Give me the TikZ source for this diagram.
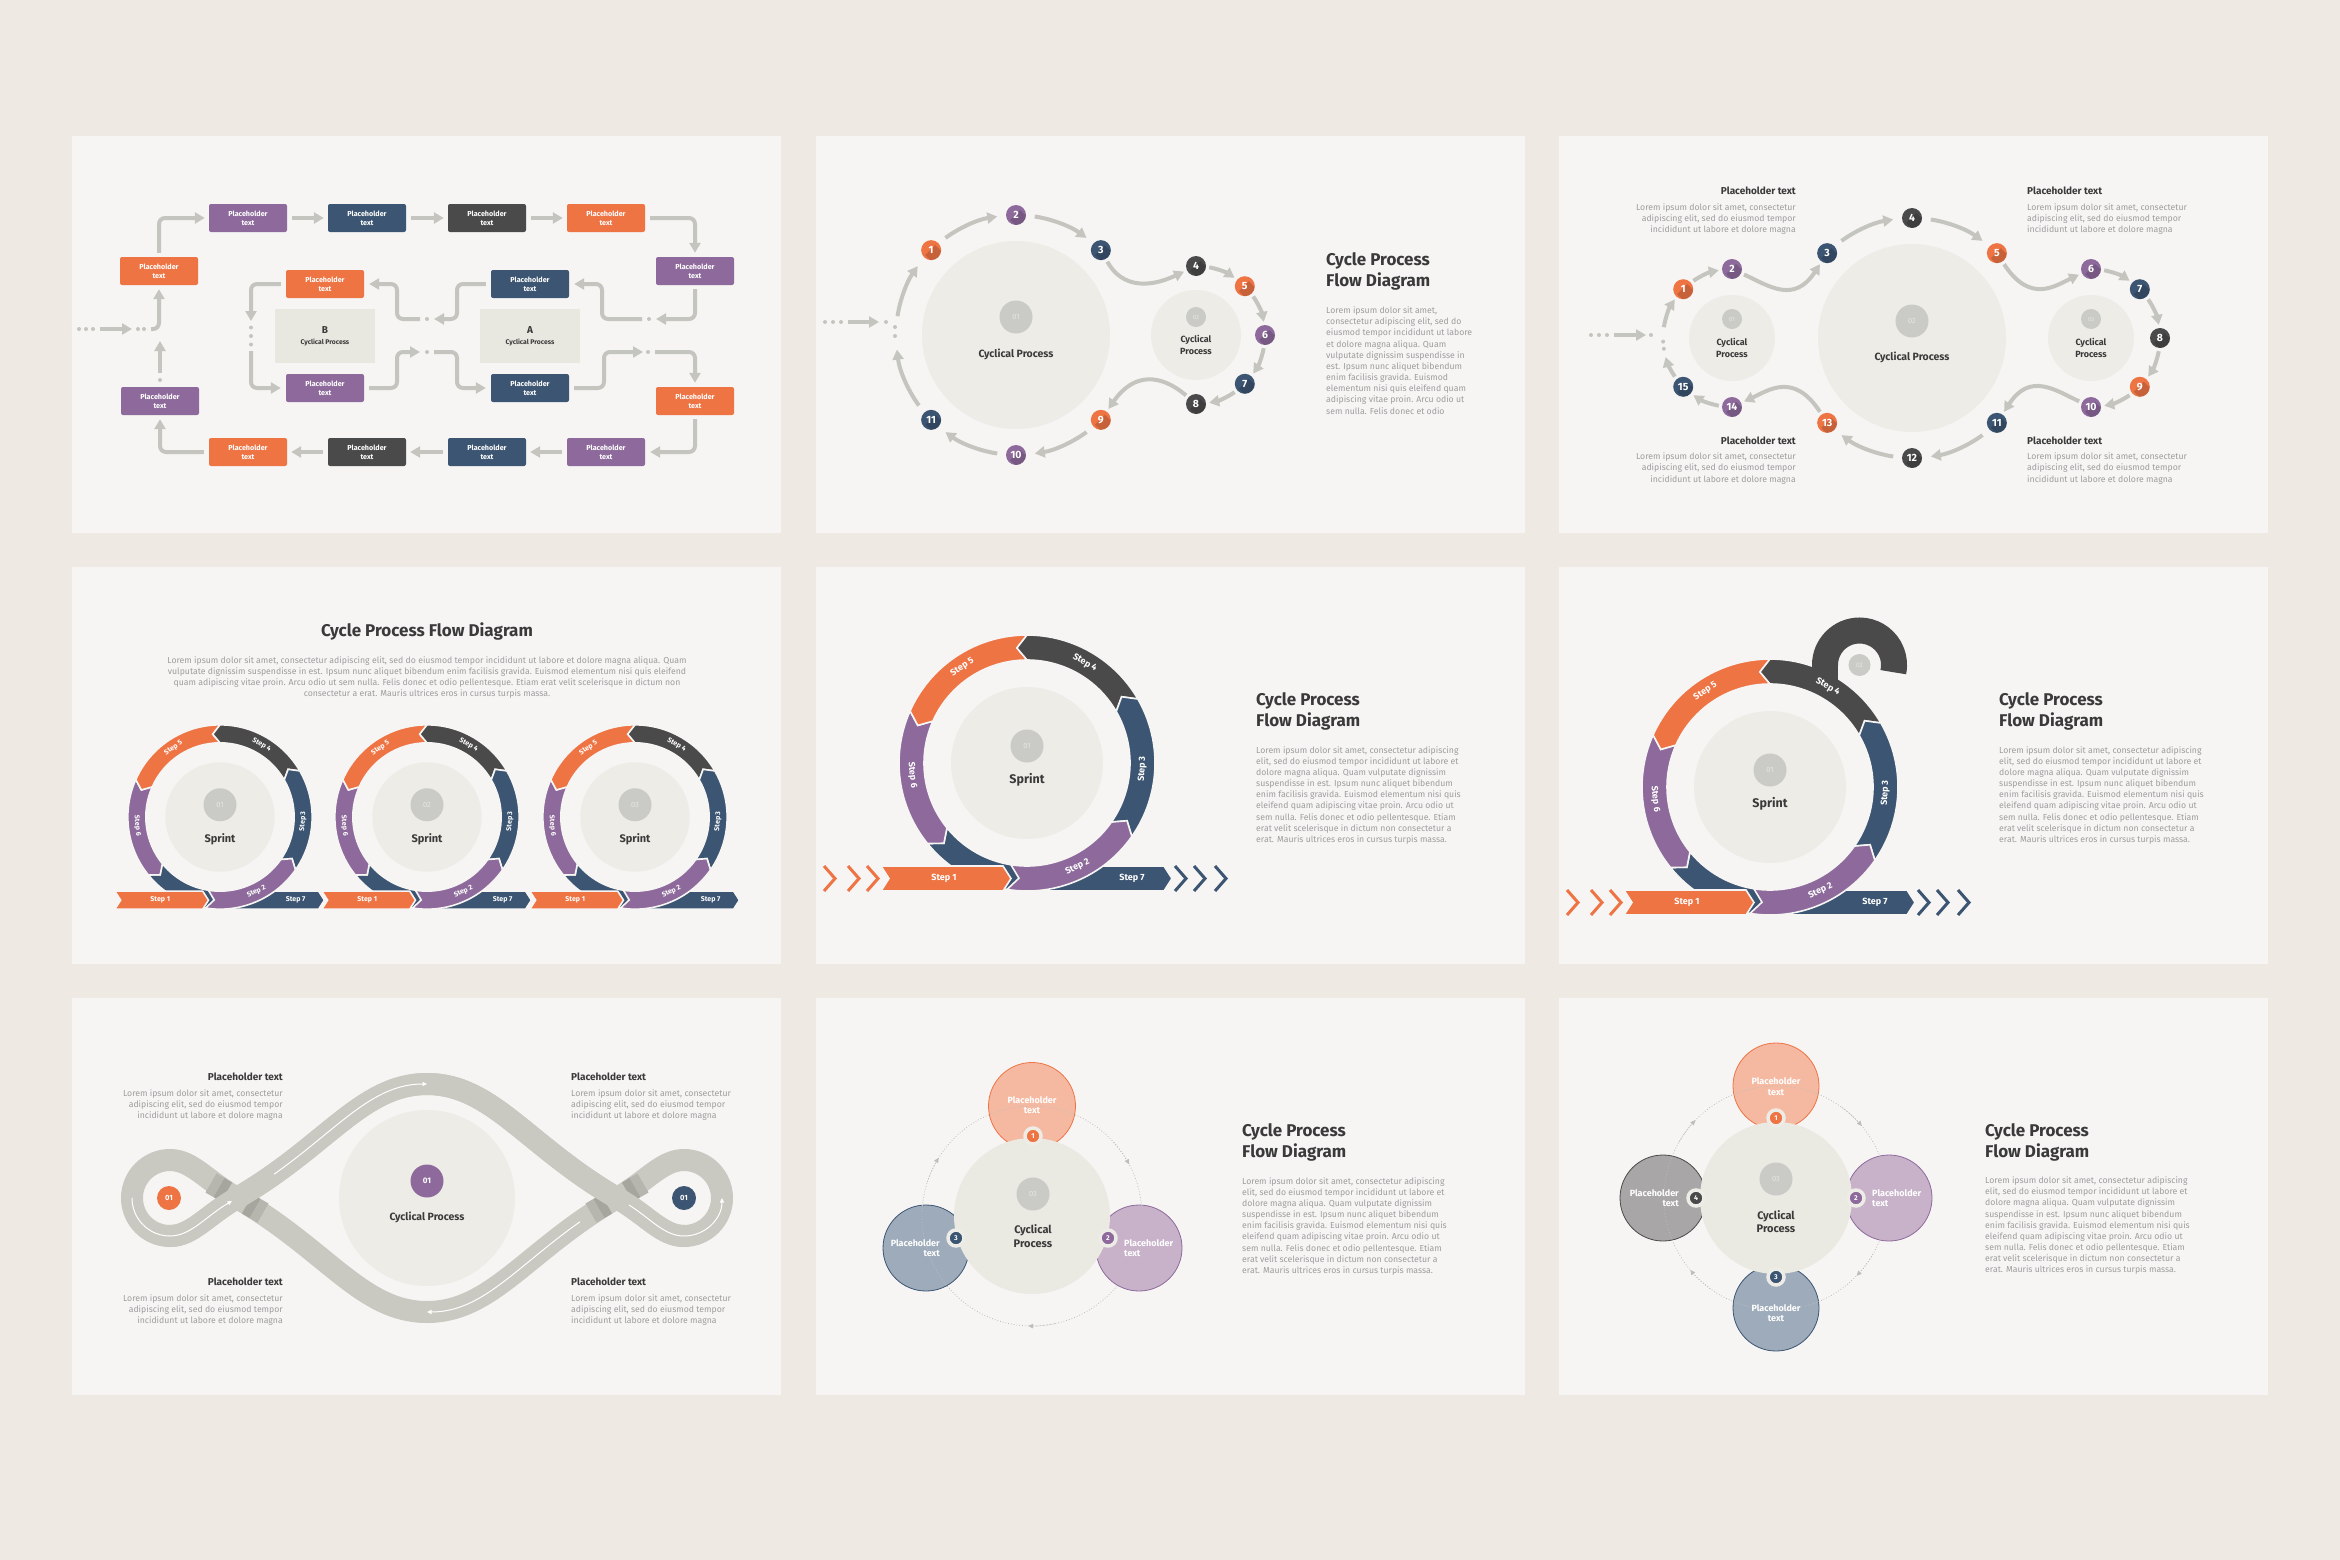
\documentclass[tikz,border=0pt]{standalone}
\usepackage{fontspec}
\setmainfont{Fira Sans}
\usetikzlibrary{arrows.meta,calc}
\definecolor{pagebg}{HTML}{EEEAE3}
\definecolor{slidebg}{HTML}{F6F5F4}
\definecolor{corange}{HTML}{EE7444}
\definecolor{cpurple}{HTML}{8D6A9B}
\definecolor{cnavy}{HTML}{3C5572}
\definecolor{cdark}{HTML}{4A4A4A}
\definecolor{arrowgray}{HTML}{C5C5BF}
\definecolor{softcircle}{HTML}{EDECE7}
\definecolor{badgegray}{HTML}{CACAC6}
\definecolor{badgetext}{HTML}{E6E6E2}
\definecolor{titlecol}{HTML}{3A3A3A}
\definecolor{bodycol}{HTML}{9D9D9D}
\definecolor{roadgray}{HTML}{C9C9C1}
\definecolor{roaddark}{HTML}{A6A69F}
\definecolor{roadmid}{HTML}{B6B6AF}
\definecolor{salmon}{HTML}{F5B9A2}
\definecolor{lilac}{HTML}{C8B2CA}
\definecolor{bluegray}{HTML}{9DABBA}
\definecolor{warmgray}{HTML}{A8A6A6}
\definecolor{graybox}{HTML}{E9E8E0}
\definecolor{centercol}{HTML}{EAE9E2}
\definecolor{dotcol}{HTML}{BDBDBA}
\tikzset{
  fbox/.style={rounded corners=2, minimum width=78, minimum height=28, inner sep=0, text=white, align=center, font=\fontsize{7.2}{9}\selectfont\bfseries},
  barr/.style={draw=arrowgray, line width=4, rounded corners=6, -{Triangle[length=10pt,width=11pt]}},
  flowarr/.style={draw=arrowgray, line width=4, -{Triangle[length=10pt,width=11pt]}},
  jdot/.style={fill=arrowgray},
  numb/.style={circle, minimum size=20, inner sep=0, text=white, font=\fontsize{10.5}{12}\selectfont\bfseries,
    path picture={\fill[black, opacity=0.16] ([shift={(4,-5)}]path picture bounding box.center) -- ++(20,20) -- ++(-10,10) -- ++(-20,-20) -- cycle;}},
  gbadge/.style={circle, fill=badgegray, inner sep=0, text=badgetext, font=\fontsize{7.5}{8}\selectfont},
  ttl/.style={anchor=west, inner sep=0, text=titlecol, font=\fontsize{17}{20}\selectfont\bfseries},
  ttlc/.style={ttl, anchor=center},
  bodyl/.style={anchor=west, inner sep=0, text=bodycol, font=\fontsize{8.7}{11}\selectfont},
  bodyr/.style={bodyl, anchor=east},
  bodyc/.style={bodyl, anchor=center},
  pheadl/.style={anchor=west, inner sep=0, text=titlecol, font=\fontsize{10}{12}\selectfont\bfseries},
  pheadr/.style={pheadl, anchor=east},
  cyc/.style={inner sep=0, text=titlecol, font=\fontsize{10.5}{12}\selectfont\bfseries},
  cycs/.style={inner sep=0, text=titlecol, font=\fontsize{9}{10}\selectfont\bfseries},
  steplbl/.style={inner sep=0, text=white},
  whitet/.style={inner sep=0, text=white, font=\fontsize{9}{10}\selectfont\bfseries},
  segline/.style={draw=slidebg, line width=1.6},
  smallbadge/.style={circle, minimum size=16, inner sep=0, text=white, font=\fontsize{7}{8}\selectfont\bfseries, draw=softcircle, line width=3.5},
  road/.style={draw=roadgray, line width=22},
  lane/.style={draw=white, line width=1, -{Triangle[length=4.5pt,width=4pt]}},
  dotc/.style={draw=dotcol, line width=0.8, dotted},
  dotarr/.style={draw=dotcol, line width=0.8, dotted, -{Triangle[length=5pt,width=4.5pt]}},
}
\newcommand\textlines[6]{\foreach \tline [count=\tidx from 0] in #6 {\node[#2] (#1-\tidx) at (#3,#4+\tidx*#5) {\tline};}}
\newcommand\arcarrow[4]{\draw[flowarr] ([shift={(#2:#4)}]#1) arc[start angle=#2, end angle=#3, radius=#4];}
\newcommand\loopdot[3]{\fill[jdot] ([shift={(#2:#3)}]#1) circle[radius=2];}
\newcommand\wheelseg[3]{\fill[#1, segline] (#2:128) arc[start angle=#2, end angle=#3, radius=128] -- (#3-5:115.5) -- (#3:103) arc[start angle=#3, end angle=#2, radius=103] -- (#2-5:115.5) -- cycle;}
\newcommand\sprintwheel[9]{%
\begin{scope}[shift={(#2,#3)}, scale=#4]
  \coordinate (#1c) at (0,0);
  \fill[cnavy, segline] (141:128) arc[start angle=141, end angle=90, radius=128] -- (137,128) -- (145,115.5) -- (137,103) -- (0,103) arc[start angle=90, end angle=141, radius=103] -- (136:115.5) -- cycle;
  \fill[corange, segline] (-146,103) -- (-24,103) -- (-16,115.5) -- (-24,128) -- (-146,128) -- (-138,115.5) -- cycle;
  \wheelseg{cpurple}{-156}{-219}
  \wheelseg{corange}{-90}{-156}
  \wheelseg{cdark}{-30}{-90}
  \wheelseg{cnavy}{35}{-30}
  \wheelseg{cpurple}{99}{35}
  #9
  \fill[softcircle] (0,0) circle[radius=76];
  \node[gbadge, minimum size=33] (#1b) at (0,-17) {#5};
  \node[inner sep=0, text=titlecol, font=\fontsize{#7}{#7}\selectfont\bfseries] (#1s) at (0,#8) {Sprint};
  \node[steplbl, font=\fontsize{#6}{#6}\selectfont\bfseries, rotate=34] (#1l5) at (236:115.5) {Step 5};
  \node[steplbl, font=\fontsize{#6}{#6}\selectfont\bfseries, rotate=-30] (#1l4) at (300:115.5) {Step 4};
  \node[steplbl, font=\fontsize{#6}{#6}\selectfont\bfseries, rotate=87] (#1l3) at (3:115.5) {Step 3};
  \node[steplbl, font=\fontsize{#6}{#6}\selectfont\bfseries, rotate=26] (#1l2) at (64:115.5) {Step 2};
  \node[steplbl, font=\fontsize{#6}{#6}\selectfont\bfseries, rotate=-84] (#1l6) at (174:115.5) {Step 6};
  \node[steplbl, font=\fontsize{#6}{#6}\selectfont\bfseries] (#1l1) at (-83,115.5) {Step 1};
  \node[steplbl, font=\fontsize{#6}{#6}\selectfont\bfseries] (#1l7) at (105,115.5) {Step 7};
\end{scope}}
\def\lstTitle{{Cycle Process},{Flow Diagram}}
\def\lstTwo{{Lorem ipsum dolor sit amet,},{consectetur adipiscing elit, sed do},{eiusmod tempor incididunt ut labore},{et dolore magna aliqua. Quam},{vulputate dignissim suspendisse in},{est. Ipsum nunc aliquet bibendum},{enim facilisis gravida. Euismod},{elementum nisi quis eleifend quam},{adipiscing vitae proin. Arcu odio ut},{sem nulla. Felis donec et odio}}
\def\lstThree{{Lorem ipsum dolor sit amet, consectetur},{adipiscing elit, sed do eiusmod tempor},{incididunt ut labore et dolore magna}}
\def\lstFour{{Lorem ipsum dolor sit amet, consectetur adipiscing elit, sed do eiusmod tempor incididunt ut labore et dolore magna aliqua. Quam},{vulputate dignissim suspendisse in est. Ipsum nunc aliquet bibendum enim facilisis gravida. Euismod elementum nisi quis eleifend},{quam adipiscing vitae proin. Arcu odio ut sem nulla. Felis donec et odio pellentesque. Etiam erat velit scelerisque in dictum non},{consectetur a erat. Mauris ultrices eros in cursus turpis massa.}}
\def\lstNine{{Lorem ipsum dolor sit amet, consectetur adipiscing},{elit, sed do eiusmod tempor incididunt ut labore et},{dolore magna aliqua. Quam vulputate dignissim},{suspendisse in est. Ipsum nunc aliquet bibendum},{enim facilisis gravida. Euismod elementum nisi quis},{eleifend quam adipiscing vitae proin. Arcu odio ut},{sem nulla. Felis donec et odio pellentesque. Etiam},{erat velit scelerisque in dictum non consectetur a},{erat. Mauris ultrices eros in cursus turpis massa.}}
\begin{document}
\begin{tikzpicture}[x=1pt,y=-1pt]
\useasboundingbox (0,0) rectangle (2340,1560);
\fill[pagebg] (0,0) rectangle (2340,1560);
% ================= SLIDE 1 =================
\begin{scope}[shift={(72,136)}]
\fill[slidebg] (0,0) rectangle (709,397);
\node[fill=graybox, minimum width=100, minimum height=54, inner sep=0] (s1gb) at (253,200) {};
\node[fill=graybox, minimum width=100, minimum height=54, inner sep=0] (s1ga) at (458,200) {};
\node[inner sep=0, text=titlecol, font=\fontsize{10}{11}\selectfont\bfseries] (s1gbl) at (253,194) {B};
\node[inner sep=0, text=titlecol, font=\fontsize{6.8}{8}\selectfont\bfseries] (s1gbt) at (253,206) {Cyclical Process};
\node[inner sep=0, text=titlecol, font=\fontsize{10}{11}\selectfont\bfseries] (s1gal) at (458,194) {A};
\node[inner sep=0, text=titlecol, font=\fontsize{6.8}{8}\selectfont\bfseries] (s1gat) at (458,206) {Cyclical Process};
\node[fbox, fill=cpurple] (s1t1) at (176,82) {Placeholder\\text};
\node[fbox, fill=cnavy] (s1t2) at (295,82) {Placeholder\\text};
\node[fbox, fill=cdark] (s1t3) at (415,82) {Placeholder\\text};
\node[fbox, fill=corange] (s1t4) at (534,82) {Placeholder\\text};
\node[fbox, fill=corange] (s1l1) at (87,135) {Placeholder\\text};
\node[fbox, fill=cpurple] (s1l2) at (88,265) {Placeholder\\text};
\node[fbox, fill=cpurple] (s1r1) at (623,135) {Placeholder\\text};
\node[fbox, fill=corange] (s1r2) at (623,265) {Placeholder\\text};
\node[fbox, fill=cpurple] (s1b1) at (534,316) {Placeholder\\text};
\node[fbox, fill=cnavy] (s1b2) at (415,316) {Placeholder\\text};
\node[fbox, fill=cdark] (s1b3) at (295,316) {Placeholder\\text};
\node[fbox, fill=corange] (s1b4) at (176,316) {Placeholder\\text};
\node[fbox, fill=corange] (s1i1) at (253,148) {Placeholder\\text};
\node[fbox, fill=cnavy] (s1i2) at (458,148) {Placeholder\\text};
\node[fbox, fill=cpurple] (s1i3) at (253,252) {Placeholder\\text};
\node[fbox, fill=cnavy] (s1i4) at (458,252) {Placeholder\\text};
\coordinate (s1j1) at (577,183); \coordinate (s1k1) at (530,183);
\coordinate (s1k2) at (385,183); \coordinate (s1j2) at (355,183); \coordinate (s1k3) at (325,183);
\coordinate (s1j3) at (179,200);
\coordinate (s1k4) at (325,216); \coordinate (s1j4) at (355,216); \coordinate (s1k5) at (385,216);
\coordinate (s1k6) at (532,216); \coordinate (s1j5) at (576,216);
\coordinate (s1j6) at (88,244); \coordinate (s1j7) at (88,193);
\coordinate (s1e0) at (28,193); \coordinate (s1e1) at (60,193); \coordinate (s1e2) at (79,193);
\draw[barr, shorten <=4pt, shorten >=4pt] (s1l1.north) |- (s1t1.west);
\draw[barr, shorten <=5pt, shorten >=4pt] (s1t1.east) -- (s1t2.west);
\draw[barr, shorten <=5pt, shorten >=4pt] (s1t2.east) -- (s1t3.west);
\draw[barr, shorten <=5pt, shorten >=4pt] (s1t3.east) -- (s1t4.west);
\draw[barr, shorten <=5pt, shorten >=4pt] (s1t4.east) -| (s1r1.north);
\draw[barr, shorten <=4pt, shorten >=7pt] (s1r1.south) |- (s1j1);
\draw[barr, shorten <=7pt, shorten >=5pt] (s1j1) -- (s1k1) |- (s1i2.east);
\draw[barr, shorten <=5pt, shorten >=7pt] (s1i2.west) -| (s1k2) -- (s1j2);
\draw[barr, shorten <=7pt, shorten >=5pt] (s1j2) -- (s1k3) |- (s1i1.east);
\draw[barr, shorten <=5pt, shorten >=15pt] (s1i1.west) -| (s1j3);
\draw[barr, shorten <=15pt, shorten >=5pt] (s1j3) |- (s1i3.west);
\draw[barr, shorten <=5pt, shorten >=7pt] (s1i3.east) -| (s1k4) -- (s1j4);
\draw[barr, shorten <=7pt, shorten >=5pt] (s1j4) -- (s1k5) |- (s1i4.west);
\draw[barr, shorten <=5pt, shorten >=5pt] (s1i4.east) -| (s1k6) -- (s1j5);
\draw[barr, shorten <=7pt, shorten >=4pt] (s1j5) -| (s1r2.north);
\draw[barr, shorten <=4pt, shorten >=5pt] (s1r2.south) |- (s1b1.east);
\draw[barr, shorten <=5pt, shorten >=4pt] (s1b1.west) -- (s1b2.east);
\draw[barr, shorten <=5pt, shorten >=4pt] (s1b2.west) -- (s1b3.east);
\draw[barr, shorten <=5pt, shorten >=4pt] (s1b3.west) -- (s1b4.east);
\draw[barr, shorten <=5pt, shorten >=4pt] (s1b4.west) -| (s1l2.south);
\draw[barr, shorten <=7pt, shorten >=12pt] (s1j6) -- (s1j7);
\draw[barr] (s1e0) -- (s1e1);
\draw[barr, shorten >=4pt] (s1e2) -| (s1l1.south);
\foreach \p in {s1j1,s1j2,s1j3,s1j4,s1j5,s1j6} {\fill[jdot] (\p) circle[radius=2];}
\fill[jdot] (179,191.5) circle[radius=2] (179,208.5) circle[radius=2];
\fill[jdot] (7,193) circle[radius=2] (14,193) circle[radius=2] (21,193) circle[radius=2] (66,193) circle[radius=2] (72,193) circle[radius=2];
\end{scope}
% ================= SLIDE 2 =================
\begin{scope}[shift={(816,136)}]
\fill[slidebg] (0,0) rectangle (709,397);
\coordinate (s2c1) at (200,199); \coordinate (s2c2) at (380,199);
\fill[softcircle] (s2c1) circle[radius=94];
\fill[softcircle] (s2c2) circle[radius=45];
\node[gbadge, minimum size=33] (s2g1) at (200,181) {01};
\node[cyc] (s2cp1) at (200,218) {Cyclical Process};
\node[gbadge, minimum size=20, font=\fontsize{6}{7}\selectfont] (s2g2) at (380,181) {02};
\node[cycs] (s2cp2a) at (380,204) {Cyclical};
\node[cycs] (s2cp2b) at (380,215) {Process};
\arcarrow{s2c1}{234}{261}{120}
\arcarrow{s2c1}{279}{306}{120}
\arcarrow{s2c1}{54}{81}{120}
\arcarrow{s2c1}{99}{126}{120}
\arcarrow{s2c1}{144}{173}{120}
\arcarrow{s2c1}{189}{215}{120}
\arcarrow{s2c2}{281}{304}{69}
\arcarrow{s2c2}{326}{349}{69}
\arcarrow{s2c2}{11}{34}{69}
\arcarrow{s2c2}{56}{79}{69}
\fill[jdot] (79,191) circle[radius=2] (79,200) circle[radius=2];
\fill[jdot] (9,186) circle[radius=2] (17,186) circle[radius=2] (25,186) circle[radius=2] (70,186) circle[radius=2];
\coordinate (s2e0) at (32,186); \coordinate (s2e1) at (63,186);
\draw[flowarr] (s2e0) -- (s2e1);
\node[numb, fill=corange] (s2n1) at ([shift={(225:120)}]s2c1) {1};
\node[numb, fill=cpurple] (s2n2) at ([shift={(270:120)}]s2c1) {2};
\node[numb, fill=cnavy] (s2n3) at ([shift={(315:120)}]s2c1) {3};
\node[numb, fill=cdark] (s2n4) at ([shift={(270:69)}]s2c2) {4};
\node[numb, fill=corange] (s2n5) at ([shift={(315:69)}]s2c2) {5};
\node[numb, fill=cpurple] (s2n6) at ([shift={(0:69)}]s2c2) {6};
\node[numb, fill=cnavy] (s2n7) at ([shift={(45:69)}]s2c2) {7};
\node[numb, fill=cdark] (s2n8) at ([shift={(90:69)}]s2c2) {8};
\node[numb, fill=corange] (s2n9) at ([shift={(45:120)}]s2c1) {9};
\node[numb, fill=cpurple] (s2n10) at ([shift={(90:120)}]s2c1) {10};
\node[numb, fill=cnavy] (s2n11) at ([shift={(135:120)}]s2c1) {11};
\draw[flowarr, shorten <=3pt, shorten >=3pt] (s2n3) .. controls (306,152) and (333,152) .. (s2n4);
\draw[flowarr, shorten <=3pt, shorten >=3pt] (s2n8) .. controls (345,238) and (318,236) .. (s2n9);
\textlines{s2t}{ttl}{510}{125}{20.5}{\lstTitle}
\textlines{s2b}{bodyl}{510}{175.3}{11.1}{\lstTwo}
\end{scope}
% ================= SLIDE 3 =================
\begin{scope}[shift={(1559,136)}]
\fill[slidebg] (0,0) rectangle (709,397);
\coordinate (s3cl) at (173,202); \coordinate (s3cb) at (353,202); \coordinate (s3cr) at (532,202);
\fill[softcircle] (s3cb) circle[radius=94];
\fill[softcircle] (s3cl) circle[radius=43];
\fill[softcircle] (s3cr) circle[radius=43];
\node[gbadge, minimum size=33] (s3g2) at (353,185) {02};
\node[cyc] (s3cp2) at (353,221) {Cyclical Process};
\node[gbadge, minimum size=20, font=\fontsize{6}{7}\selectfont] (s3g1) at (173,183) {01};
\node[cycs] (s3cp1a) at (173,207) {Cyclical};
\node[cycs] (s3cp1b) at (173,218) {Process};
\node[gbadge, minimum size=20, font=\fontsize{6}{7}\selectfont] (s3g3) at (532,183) {03};
\node[cycs] (s3cp3a) at (532,207) {Cyclical};
\node[cycs] (s3cp3b) at (532,218) {Process};
\arcarrow{s3cl}{236}{259}{69}
\arcarrow{s3cl}{101}{124}{69}
\arcarrow{s3cl}{146}{164}{69}
\arcarrow{s3cl}{189}{214}{69}
\loopdot{s3cl}{171}{69}
\loopdot{s3cl}{177}{69}
\arcarrow{s3cb}{234}{261}{120}
\arcarrow{s3cb}{279}{306}{120}
\arcarrow{s3cb}{54}{81}{120}
\arcarrow{s3cb}{99}{126}{120}
\arcarrow{s3cr}{281}{304}{69}
\arcarrow{s3cr}{326}{349}{69}
\arcarrow{s3cr}{11}{34}{69}
\arcarrow{s3cr}{56}{79}{69}
\fill[jdot] (32,199) circle[radius=2] (40,199) circle[radius=2] (48,199) circle[radius=2] (92,199) circle[radius=2];
\coordinate (s3e0) at (55,199); \coordinate (s3e1) at (87,199);
\draw[flowarr] (s3e0) -- (s3e1);
\node[numb, fill=corange] (s3n1) at ([shift={(225:69)}]s3cl) {1};
\node[numb, fill=cpurple] (s3n2) at ([shift={(270:69)}]s3cl) {2};
\node[numb, fill=cnavy] (s3n3) at ([shift={(225:120)}]s3cb) {3};
\node[numb, fill=cdark] (s3n4) at ([shift={(270:120)}]s3cb) {4};
\node[numb, fill=corange] (s3n5) at ([shift={(315:120)}]s3cb) {5};
\node[numb, fill=cpurple] (s3n6) at ([shift={(270:69)}]s3cr) {6};
\node[numb, fill=cnavy] (s3n7) at ([shift={(315:69)}]s3cr) {7};
\node[numb, fill=cdark] (s3n8) at ([shift={(0:69)}]s3cr) {8};
\node[numb, fill=corange] (s3n9) at ([shift={(45:69)}]s3cr) {9};
\node[numb, fill=cpurple] (s3n10) at ([shift={(90:69)}]s3cr) {10};
\node[numb, fill=cnavy] (s3n11) at ([shift={(45:120)}]s3cb) {11};
\node[numb, fill=cdark] (s3n12) at ([shift={(90:120)}]s3cb) {12};
\node[numb, fill=corange] (s3n13) at ([shift={(135:120)}]s3cb) {13};
\node[numb, fill=cpurple] (s3n14) at ([shift={(90:69)}]s3cl) {14};
\node[numb, fill=cnavy] (s3n15) at ([shift={(135:69)}]s3cl) {15};
\draw[flowarr, shorten <=3pt, shorten >=3pt] (s3n2) .. controls (210,150) and (235,168) .. (s3n3);
\draw[flowarr, shorten <=3pt, shorten >=3pt] (s3n5) .. controls (471,168) and (496,150) .. (s3n6);
\draw[flowarr, shorten <=3pt, shorten >=3pt] (s3n10) .. controls (496,254) and (471,236) .. (s3n11);
\draw[flowarr, shorten <=3pt, shorten >=3pt] (s3n13) .. controls (235,236) and (210,254) .. (s3n14);
\node[pheadr] (s3h1) at (237,55) {Placeholder text};
\textlines{s3b1}{bodyr}{237}{72}{11.2}{\lstThree}
\node[pheadl] (s3h2) at (468,55) {Placeholder text};
\textlines{s3b2}{bodyl}{468}{72}{11.2}{\lstThree}
\node[pheadr] (s3h3) at (237,305) {Placeholder text};
\textlines{s3b3}{bodyr}{237}{321.3}{11.2}{\lstThree}
\node[pheadl] (s3h4) at (468,305) {Placeholder text};
\textlines{s3b4}{bodyl}{468}{321.3}{11.2}{\lstThree}
\end{scope}
% ================= SLIDE 4 =================
\begin{scope}[shift={(72,567)}]
\fill[slidebg] (0,0) rectangle (709,397);
\node[ttlc] (s4title) at (355,64) {Cycle Process Flow Diagram};
\textlines{s4b}{bodyc}{355}{94}{11.1}{\lstFour}
\sprintwheel{s4wa}{148}{250}{0.72}{01}{7}{11}{30.5}{}
\sprintwheel{s4wb}{355}{250}{0.72}{02}{7}{11}{30.5}{}
\sprintwheel{s4wc}{563}{250}{0.72}{03}{7}{11}{30.5}{}
\end{scope}
% ================= SLIDE 5 =================
\begin{scope}[shift={(816,567)}]
\fill[slidebg] (0,0) rectangle (709,397);
\sprintwheel{s5w}{211}{196}{1}{01}{9}{12.5}{17}{}
\begin{scope}[shift={(211,196)}]
\foreach \cx in {-203,-179,-160} {\draw[corange, line width=3] (\cx,103) -- (\cx+11,115.5) -- (\cx,128);}
\foreach \cx in {148,167,188} {\draw[cnavy, line width=3] (\cx,103) -- (\cx+11,115.5) -- (\cx,128);}
\end{scope}
\textlines{s5t}{ttl}{440}{134}{20.3}{\lstTitle}
\textlines{s5b}{bodyl}{440}{184}{11.1}{\lstNine}
\end{scope}
% ================= SLIDE 6 =================
\begin{scope}[shift={(1559,567)}]
\fill[slidebg] (0,0) rectangle (709,397);
\sprintwheel{s6w}{211}{220}{1}{01}{9}{12.5}{17}{%
  \coordinate (s6hc) at (89.5,-122);
  \draw[cdark, line width=26] ([shift={(180:34.5)}]s6hc) arc[start angle=180, end angle=372, radius=34.5];
  \fill[cdark] (42,-123) rectangle (68,-104);
  \node[gbadge, minimum size=22, font=\fontsize{6.5}{7}\selectfont] (s6b2) at (s6hc) {02};
}
\begin{scope}[shift={(211,220)}]
\foreach \cx in {-203,-179,-160} {\draw[corange, line width=3] (\cx,103) -- (\cx+11,115.5) -- (\cx,128);}
\foreach \cx in {148,167,188} {\draw[cnavy, line width=3] (\cx,103) -- (\cx+11,115.5) -- (\cx,128);}
\end{scope}
\textlines{s6t}{ttl}{440}{134}{20.3}{\lstTitle}
\textlines{s6b}{bodyl}{440}{184}{11.1}{\lstNine}
\end{scope}
% ================= SLIDE 7 =================
\begin{scope}[shift={(72,998)}]
\fill[slidebg] (0,0) rectangle (709,397);
\fill[softcircle] (355,200) circle[radius=88];
\draw[road] (165,200) .. controls (255,148) and (290,86) .. (355,86) .. controls (420,86) and (455,148) .. (545,200) .. controls (575,217) and (590,238) .. (612,238) arc[start angle=90, end angle=-90, radius=38] .. controls (590,162) and (575,183) .. (545,200) .. controls (455,252) and (420,314) .. (355,314) .. controls (290,314) and (255,252) .. (165,200) .. controls (135,183) and (120,162) .. (98,162) arc[start angle=270, end angle=90, radius=38] .. controls (120,238) and (135,217) .. (165,200);
\draw[roaddark, line width=22] (154.6,194) -- (146.8,189.5);
\draw[roadmid, line width=22] (146.8,189.5) -- (139,185);
\draw[roaddark, line width=22] (175.4,206) -- (183.2,210.5);
\draw[roadmid, line width=22] (183.2,210.5) -- (191,215);
\draw[roaddark, line width=22] (555.4,194) -- (563.2,189.5);
\draw[roadmid, line width=22] (563.2,189.5) -- (571,185);
\draw[roaddark, line width=22] (534.6,206) -- (526.8,210.5);
\draw[roadmid, line width=22] (526.8,210.5) -- (519,215);
\draw[road] (98,238) .. controls (120,238) and (135,217) .. (165,200) .. controls (255,148) and (290,86) .. (355,86) .. controls (420,86) and (455,148) .. (545,200) .. controls (575,217) and (590,238) .. (612,238);
\draw[lane] (202.1,176.2) .. controls (266.2,130.8) and (299.75,86) .. (355,86);
\draw[lane] (507.9,223.8) .. controls (443.8,269.2) and (410.25,314) .. (355,314);
\draw[lane] (60,200) arc[start angle=180, end angle=90, radius=38] .. controls (119,238) and (134,218) .. (160,203);
\draw[lane] (557,207) .. controls (578,220) and (592,238) .. (612,238) arc[start angle=90, end angle=0, radius=38];
\node[circle, fill=corange, minimum size=24, inner sep=0, text=white, font=\fontsize{7.5}{8}\selectfont\bfseries] (s7o) at (97,200) {01};
\node[circle, fill=cnavy, minimum size=24, inner sep=0, text=white, font=\fontsize{7.5}{8}\selectfont\bfseries] (s7n) at (612,200) {01};
\node[circle, fill=cpurple, minimum size=33, inner sep=0, text=white, font=\fontsize{8}{9}\selectfont\bfseries] (s7p) at (355,183) {01};
\node[cyc] (s7cp) at (355,219) {Cyclical Process};
\node[pheadr] (s7h1) at (211,78.7) {Placeholder text};
\textlines{s7b1}{bodyr}{211}{95.7}{11}{\lstThree}
\node[pheadl] (s7h2) at (499,78.7) {Placeholder text};
\textlines{s7b2}{bodyl}{499}{95.7}{11}{\lstThree}
\node[pheadr] (s7h3) at (211,284) {Placeholder text};
\textlines{s7b3}{bodyr}{211}{300.7}{11}{\lstThree}
\node[pheadl] (s7h4) at (499,284) {Placeholder text};
\textlines{s7b4}{bodyl}{499}{300.7}{11}{\lstThree}
\end{scope}
% ================= SLIDE 8 =================
\begin{scope}[shift={(816,998)}]
\fill[slidebg] (0,0) rectangle (709,397);
\coordinate (s8c) at (216,218);
\fill[salmon, draw=corange, line width=0.8] (216,108) circle[radius=43.5];
\fill[bluegray, draw=cnavy, line width=0.8] (110,250) circle[radius=43];
\fill[lilac, draw=cpurple, line width=0.8] (323,250) circle[radius=43];
\draw[dotc] (s8c) circle[radius=110];
\draw[dotarr] ([shift={(198:110)}]s8c) arc[start angle=198, end angle=212, radius=110];
\draw[dotarr] ([shift={(318:110)}]s8c) arc[start angle=318, end angle=332, radius=110];
\draw[dotarr] ([shift={(78:110)}]s8c) arc[start angle=78, end angle=92, radius=110];
\fill[centercol] (s8c) circle[radius=78];
\node[gbadge, minimum size=33] (s8g) at (217,196) {03};
\node[cyc, font=\fontsize{11}{12}\selectfont\bfseries] (s8cpa) at (217,232.7) {Cyclical};
\node[cyc, font=\fontsize{11}{12}\selectfont\bfseries] (s8cpb) at (217,246) {Process};
\node[whitet] (s8ta) at (216,102) {Placeholder};
\node[whitet] (s8tb) at (216,113) {text};
\node[whitet, anchor=east] (s8la) at (124,245) {Placeholder};
\node[whitet, anchor=east] (s8lb) at (124,256) {text};
\node[whitet, anchor=west] (s8ra) at (308,245) {Placeholder};
\node[whitet, anchor=west] (s8rb) at (308,256) {text};
\node[smallbadge, fill=corange] (s8n1) at (217,138) {1};
\node[smallbadge, fill=cpurple] (s8n2) at (292,240) {2};
\node[smallbadge, fill=cnavy] (s8n3) at (140,240) {3};
\textlines{s8t}{ttl}{426}{134}{20.3}{\lstTitle}
\textlines{s8b}{bodyl}{426}{184}{11.1}{\lstNine}
\end{scope}
% ================= SLIDE 9 =================
\begin{scope}[shift={(1559,998)}]
\fill[slidebg] (0,0) rectangle (709,397);
\coordinate (s9c) at (217,200);
\fill[salmon, draw=corange, line width=0.8] (217,88) circle[radius=43];
\fill[lilac, draw=cpurple, line width=0.8] (330,200) circle[radius=43];
\fill[bluegray, draw=cnavy, line width=0.8] (217,310) circle[radius=43];
\fill[warmgray, draw=cdark, line width=0.8] (104,200) circle[radius=43];
\draw[dotc] (s9c) circle[radius=112];
\draw[dotarr] ([shift={(210:112)}]s9c) arc[start angle=210, end angle=224, radius=112];
\draw[dotarr] ([shift={(306:112)}]s9c) arc[start angle=306, end angle=320, radius=112];
\draw[dotarr] ([shift={(30:112)}]s9c) arc[start angle=30, end angle=44, radius=112];
\draw[dotarr] ([shift={(126:112)}]s9c) arc[start angle=126, end angle=140, radius=112];
\fill[centercol] (s9c) circle[radius=76];
\node[gbadge, minimum size=33] (s9g) at (217,181) {03};
\node[cyc, font=\fontsize{11}{12}\selectfont\bfseries] (s9cpa) at (217,218) {Cyclical};
\node[cyc, font=\fontsize{11}{12}\selectfont\bfseries] (s9cpb) at (217,231) {Process};
\node[whitet] (s9ta) at (217,83.3) {Placeholder};
\node[whitet] (s9tb) at (217,95) {text};
\node[whitet] (s9ba) at (217,310) {Placeholder};
\node[whitet] (s9bb) at (217,321) {text};
\node[whitet, anchor=east] (s9la) at (120,195) {Placeholder};
\node[whitet, anchor=east] (s9lb) at (120,206) {text};
\node[whitet, anchor=west] (s9ra) at (313,195) {Placeholder};
\node[whitet, anchor=west] (s9rb) at (313,206) {text};
\node[smallbadge, fill=corange] (s9n1) at (217,120) {1};
\node[smallbadge, fill=cpurple] (s9n2) at (297,200) {2};
\node[smallbadge, fill=cnavy] (s9n3) at (217,279) {3};
\node[smallbadge, fill=cdark] (s9n4) at (137,200) {4};
\textlines{s9t}{ttl}{426}{134}{20.3}{\lstTitle}
\textlines{s9b}{bodyl}{426}{183.3}{11.1}{\lstNine}
\end{scope}
\end{tikzpicture}
\end{document}
